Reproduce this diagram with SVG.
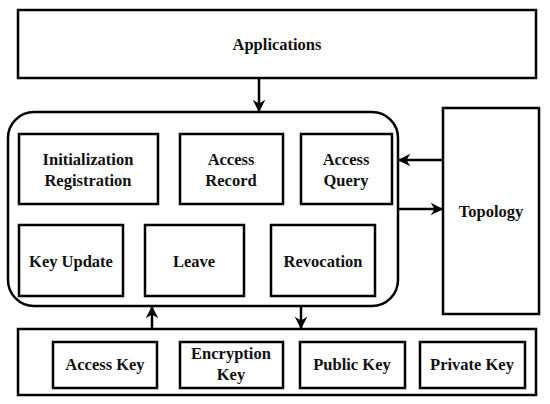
<svg xmlns="http://www.w3.org/2000/svg" width="550" height="404" viewBox="0 0 550 404">
<defs>
<style>
.b{fill:#fff;stroke:#000;stroke-width:2.5}
.t{font-family:'Liberation Serif','Times New Roman',serif;font-weight:bold;font-size:16.5px;text-anchor:middle;fill:#111}
.c{stroke:#000;stroke-width:2.5;fill:none}
</style>
<marker id="ah" viewBox="0 0 10 10" refX="9" refY="5" markerWidth="5" markerHeight="5" orient="auto" markerUnits="strokeWidth">
<path d="M0,0 L10,5 L0,10 L3,5 Z" fill="#000"/>
</marker>
</defs>
<rect width="550" height="404" fill="#fff"/>
<g id="applications"><rect class="b" x="18" y="10" width="518" height="68"/><text class="t" x="277" y="50">Applications</text></g>
<g id="core"><rect class="b" x="8" y="112" width="390" height="194" rx="26"/></g>
<g id="init"><rect class="b" x="19" y="134" width="139" height="70"/><text class="t" x="88" y="165">Initialization</text><text class="t" x="88" y="186">Registration</text></g>
<g id="record"><rect class="b" x="180" y="134" width="103" height="70"/><text class="t" x="231" y="165">Access</text><text class="t" x="231" y="186">Record</text></g>
<g id="query"><rect class="b" x="301" y="134" width="91" height="70"/><text class="t" x="346" y="165">Access</text><text class="t" x="346" y="186">Query</text></g>
<g id="keyupdate"><rect class="b" x="19" y="225" width="104" height="71"/><text class="t" x="71" y="267">Key Update</text></g>
<g id="leave"><rect class="b" x="145" y="225" width="99" height="71"/><text class="t" x="194" y="267">Leave</text></g>
<g id="revocation"><rect class="b" x="271" y="225" width="104" height="71"/><text class="t" x="323" y="267">Revocation</text></g>
<g id="topology"><rect class="b" x="443" y="108" width="96" height="206"/><text class="t" x="491" y="217">Topology</text></g>
<g id="keys"><rect class="b" x="18" y="329" width="518" height="66"/></g>
<g id="accesskey"><rect class="b" x="53" y="342" width="104" height="46"/><text class="t" x="105" y="370">Access Key</text></g>
<g id="enckey"><rect class="b" x="180" y="342" width="103" height="46"/><text class="t" x="231" y="359">Encryption</text><text class="t" x="231" y="380">Key</text></g>
<g id="pubkey"><rect class="b" x="300" y="342" width="105" height="46"/><text class="t" x="352" y="370">Public Key</text></g>
<g id="privkey"><rect class="b" x="420" y="342" width="105" height="46"/><text class="t" x="472" y="370">Private Key</text></g>
<g id="connectors">
<line class="c" x1="259" y1="78" x2="259" y2="111" marker-end="url(#ah)"/>
<line class="c" x1="443" y1="160" x2="399" y2="160" marker-end="url(#ah)"/>
<line class="c" x1="398" y1="209" x2="442" y2="209" marker-end="url(#ah)"/>
<line class="c" x1="152" y1="329" x2="152" y2="307" marker-end="url(#ah)"/>
<line class="c" x1="301" y1="306" x2="301" y2="328" marker-end="url(#ah)"/>
</g>
</svg>
